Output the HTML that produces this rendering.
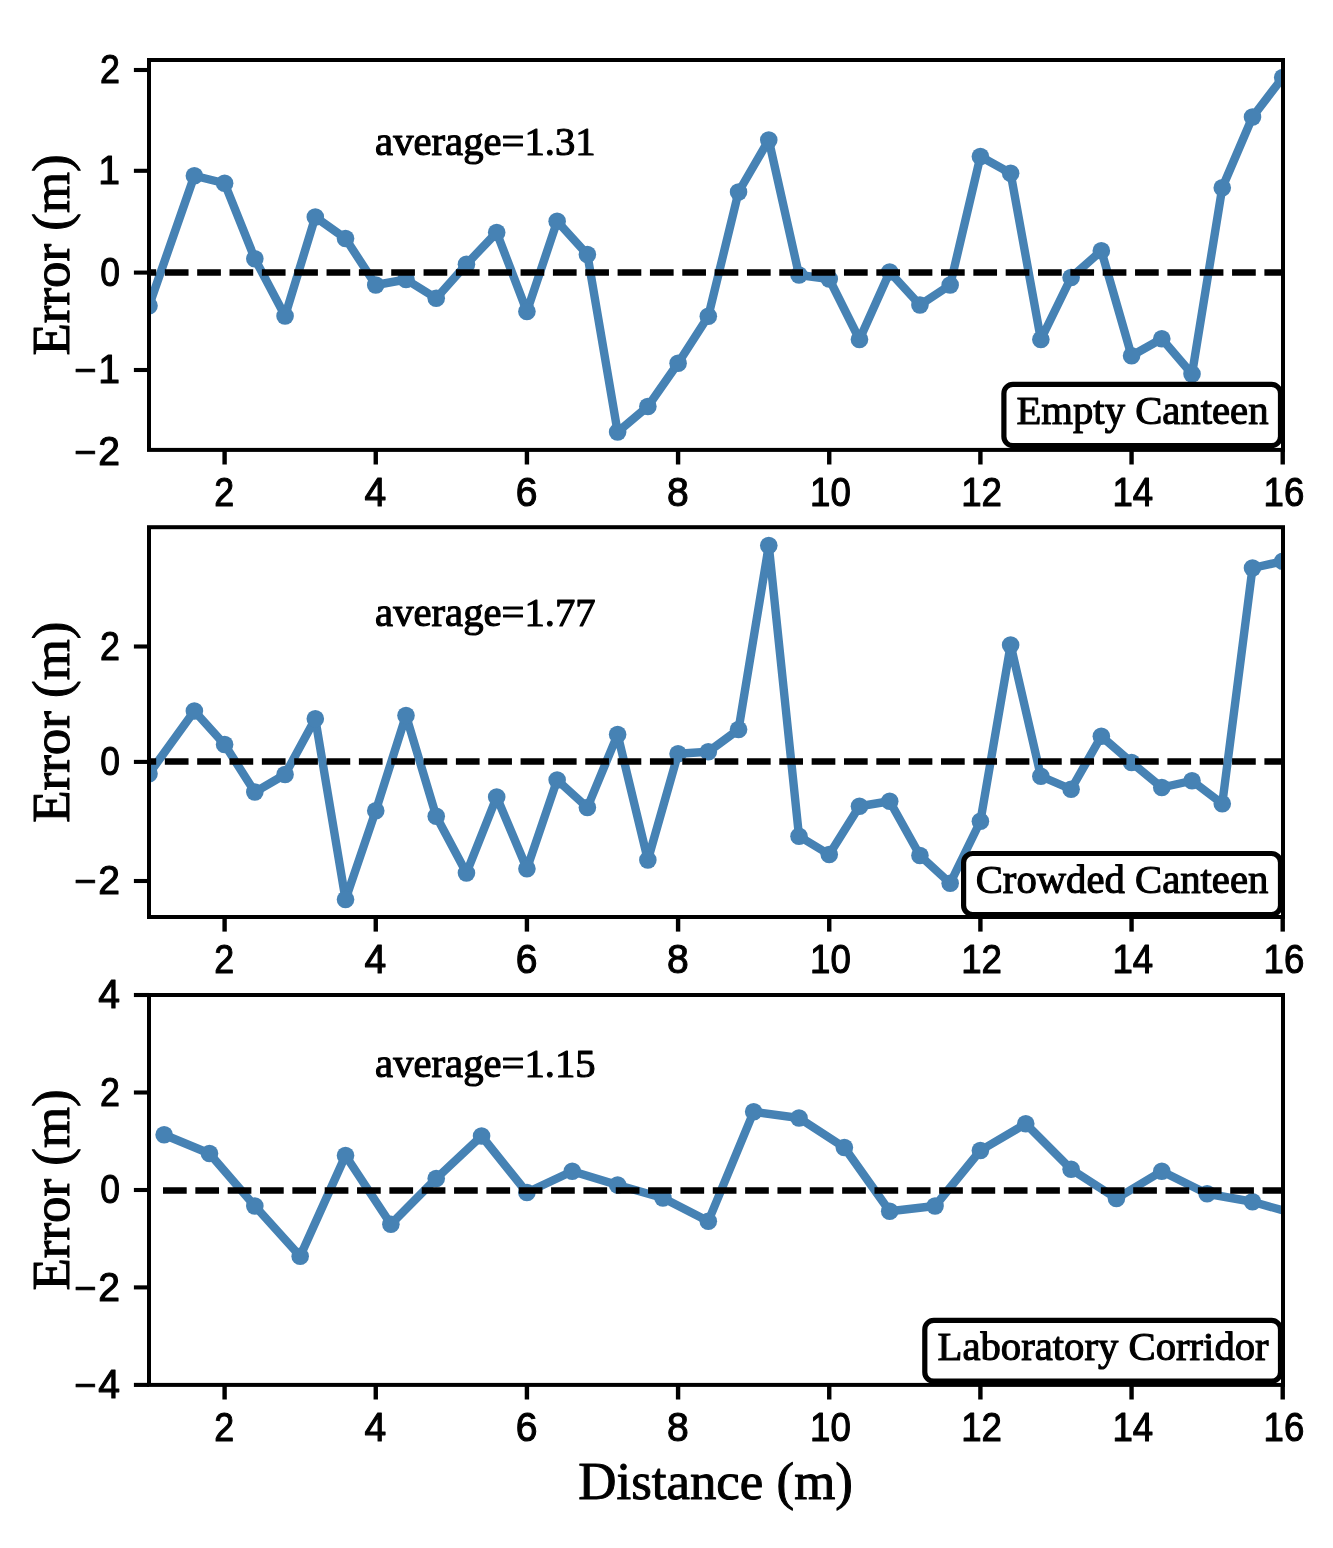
<!DOCTYPE html>
<html lang="en">
<head>
<meta charset="utf-8">
<title>Error vs Distance</title>
<style>
html,body{margin:0;padding:0;background:#fff;}
body{width:1333px;height:1548px;overflow:hidden;}
svg{display:block;}
.tk{font-family:"Liberation Sans","DejaVu Sans",sans-serif;font-size:40.7px;fill:#000;stroke:#000;stroke-width:1.1px;stroke-linejoin:round;}
.tx{font-family:"Liberation Serif","DejaVu Serif",serif;font-size:40.7px;fill:#000;stroke:#000;stroke-width:1.1px;stroke-linejoin:round;}
.lb{font-family:"Liberation Serif","DejaVu Serif",serif;font-size:52.9px;fill:#000;stroke:#000;stroke-width:1.0px;stroke-linejoin:round;}
</style>
</head>
<body>
<svg width="1333" height="1548" viewBox="0 0 1333 1548">
<rect x="0" y="0" width="1333" height="1548" fill="#ffffff"/>
<defs>
<clipPath id="c0"><rect x="149.00" y="60.00" width="1134.00" height="389.90"/></clipPath>
<clipPath id="c1"><rect x="149.00" y="527.20" width="1134.00" height="389.80"/></clipPath>
<clipPath id="c2"><rect x="149.00" y="995.00" width="1134.00" height="389.90"/></clipPath>
</defs>
<g id="panel1">
<g clip-path="url(#c0)">
<polyline points="149.02,305.75 194.37,175.75 224.60,183.25 254.83,258.75 285.06,316.00 315.30,217.00 345.53,238.50 375.76,285.00 405.99,279.50 436.22,298.25 466.46,264.25 496.69,232.50 526.92,311.50 557.15,221.25 587.38,254.50 617.62,432.00 647.85,406.50 678.08,363.25 708.31,316.25 738.54,192.00 768.78,140.00 799.01,275.00 829.24,279.00 859.47,339.50 889.70,272.00 919.94,305.00 950.17,285.00 980.40,156.50 1010.63,173.25 1040.86,339.50 1071.10,277.50 1101.33,250.75 1131.56,355.75 1161.79,338.75 1192.02,374.00 1222.26,187.75 1252.49,117.00 1282.72,77.50" fill="none" stroke="#4682b4" stroke-width="8.4" stroke-linejoin="round" stroke-linecap="butt"/>
<g fill="#4682b4"><circle cx="149.02" cy="305.75" r="8.8"/><circle cx="194.37" cy="175.75" r="8.8"/><circle cx="224.60" cy="183.25" r="8.8"/><circle cx="254.83" cy="258.75" r="8.8"/><circle cx="285.06" cy="316.00" r="8.8"/><circle cx="315.30" cy="217.00" r="8.8"/><circle cx="345.53" cy="238.50" r="8.8"/><circle cx="375.76" cy="285.00" r="8.8"/><circle cx="405.99" cy="279.50" r="8.8"/><circle cx="436.22" cy="298.25" r="8.8"/><circle cx="466.46" cy="264.25" r="8.8"/><circle cx="496.69" cy="232.50" r="8.8"/><circle cx="526.92" cy="311.50" r="8.8"/><circle cx="557.15" cy="221.25" r="8.8"/><circle cx="587.38" cy="254.50" r="8.8"/><circle cx="617.62" cy="432.00" r="8.8"/><circle cx="647.85" cy="406.50" r="8.8"/><circle cx="678.08" cy="363.25" r="8.8"/><circle cx="708.31" cy="316.25" r="8.8"/><circle cx="738.54" cy="192.00" r="8.8"/><circle cx="768.78" cy="140.00" r="8.8"/><circle cx="799.01" cy="275.00" r="8.8"/><circle cx="829.24" cy="279.00" r="8.8"/><circle cx="859.47" cy="339.50" r="8.8"/><circle cx="889.70" cy="272.00" r="8.8"/><circle cx="919.94" cy="305.00" r="8.8"/><circle cx="950.17" cy="285.00" r="8.8"/><circle cx="980.40" cy="156.50" r="8.8"/><circle cx="1010.63" cy="173.25" r="8.8"/><circle cx="1040.86" cy="339.50" r="8.8"/><circle cx="1071.10" cy="277.50" r="8.8"/><circle cx="1101.33" cy="250.75" r="8.8"/><circle cx="1131.56" cy="355.75" r="8.8"/><circle cx="1161.79" cy="338.75" r="8.8"/><circle cx="1192.02" cy="374.00" r="8.8"/><circle cx="1222.26" cy="187.75" r="8.8"/><circle cx="1252.49" cy="117.00" r="8.8"/><circle cx="1282.72" cy="77.50" r="8.8"/></g>
<line x1="132.50" y1="272.55" x2="1300" y2="272.55" stroke="#000" stroke-width="6.6" stroke-dasharray="23.7 8.64"/>
</g>
<g stroke="#000" stroke-linecap="butt">
<line x1="224.60" y1="449.90" x2="224.60" y2="464.50" stroke-width="4.4"/><line x1="375.76" y1="449.90" x2="375.76" y2="464.50" stroke-width="4.4"/><line x1="526.92" y1="449.90" x2="526.92" y2="464.50" stroke-width="4.4"/><line x1="678.08" y1="449.90" x2="678.08" y2="464.50" stroke-width="4.4"/><line x1="829.24" y1="449.90" x2="829.24" y2="464.50" stroke-width="4.4"/><line x1="980.40" y1="449.90" x2="980.40" y2="464.50" stroke-width="4.4"/><line x1="1131.56" y1="449.90" x2="1131.56" y2="464.50" stroke-width="4.4"/><line x1="1282.72" y1="449.90" x2="1282.72" y2="464.50" stroke-width="4.4"/>
<line x1="133.90" y1="70.00" x2="149.00" y2="70.00" stroke-width="4.1"/><line x1="133.90" y1="170.80" x2="149.00" y2="170.80" stroke-width="4.1"/><line x1="133.90" y1="272.60" x2="149.00" y2="272.60" stroke-width="4.1"/><line x1="133.90" y1="370.00" x2="149.00" y2="370.00" stroke-width="4.1"/>
</g>
<rect x="149.00" y="60.00" width="1134.00" height="389.90" fill="none" stroke="#000" stroke-width="4.0" stroke-linejoin="miter"/>
<g class="tk" text-anchor="middle"><text transform="translate(224.30,506.00) scale(0.88,1)">2</text><text transform="translate(375.46,506.00) scale(0.96,1)">4</text><text transform="translate(526.62,506.00) scale(0.96,1)">6</text><text transform="translate(677.78,506.00) scale(0.96,1)">8</text><text transform="translate(830.44,506.00) scale(0.9,1)">10</text><text transform="translate(981.60,506.00) scale(0.9,1)">12</text><text transform="translate(1132.76,506.00) scale(0.9,1)">14</text><text transform="translate(1283.92,506.00) scale(0.9,1)">16</text></g>
<g class="tk" text-anchor="end"><text transform="translate(120.00,83.40) scale(0.88,1)">2</text><text transform="translate(120.00,184.20) scale(0.96,1)">1</text><text transform="translate(120.00,286.00) scale(0.87,1)">0</text><text transform="translate(120.00,383.40) scale(0.96,1)"><tspan dy="0.8" style="stroke-width:0.5px">−</tspan><tspan dx="1.4" dy="-0.8">1</tspan></text><text transform="translate(120.00,465.40) scale(0.96,1)"><tspan dy="0.8" style="stroke-width:0.5px">−</tspan><tspan dx="1.4" dy="-0.8">2</tspan></text></g>
<text class="lb" text-anchor="middle" transform="translate(68.7,254.95) rotate(-90)">Error (m)</text>
<text class="tx" x="375.10" y="154.85">average=1.31</text>
<rect x="1003.90" y="384.40" width="276.60" height="61.20" rx="9" ry="9" fill="#fff" stroke="#000" stroke-width="5.2"/>
<text class="tx" x="1016.50" y="424.00">Empty Canteen</text>
</g>
<g id="panel2">
<g clip-path="url(#c1)">
<polyline points="149.02,773.75 194.37,711.00 224.60,744.50 254.83,792.00 285.06,774.50 315.30,718.75 345.53,899.50 375.76,810.75 405.99,715.50 436.22,816.25 466.46,873.00 496.69,797.00 526.92,868.75 557.15,780.00 587.38,807.50 617.62,734.50 647.85,860.00 678.08,753.75 708.31,751.75 738.54,729.50 768.78,545.50 799.01,836.25 829.24,854.50 859.47,806.25 889.70,801.25 919.94,855.50 950.17,883.25 980.40,821.25 1010.63,645.00 1040.86,776.25 1071.10,789.25 1101.33,736.25 1131.56,762.50 1161.79,787.50 1192.02,780.75 1222.26,803.75 1252.49,568.00 1282.72,561.25" fill="none" stroke="#4682b4" stroke-width="8.4" stroke-linejoin="round" stroke-linecap="butt"/>
<g fill="#4682b4"><circle cx="149.02" cy="773.75" r="8.8"/><circle cx="194.37" cy="711.00" r="8.8"/><circle cx="224.60" cy="744.50" r="8.8"/><circle cx="254.83" cy="792.00" r="8.8"/><circle cx="285.06" cy="774.50" r="8.8"/><circle cx="315.30" cy="718.75" r="8.8"/><circle cx="345.53" cy="899.50" r="8.8"/><circle cx="375.76" cy="810.75" r="8.8"/><circle cx="405.99" cy="715.50" r="8.8"/><circle cx="436.22" cy="816.25" r="8.8"/><circle cx="466.46" cy="873.00" r="8.8"/><circle cx="496.69" cy="797.00" r="8.8"/><circle cx="526.92" cy="868.75" r="8.8"/><circle cx="557.15" cy="780.00" r="8.8"/><circle cx="587.38" cy="807.50" r="8.8"/><circle cx="617.62" cy="734.50" r="8.8"/><circle cx="647.85" cy="860.00" r="8.8"/><circle cx="678.08" cy="753.75" r="8.8"/><circle cx="708.31" cy="751.75" r="8.8"/><circle cx="738.54" cy="729.50" r="8.8"/><circle cx="768.78" cy="545.50" r="8.8"/><circle cx="799.01" cy="836.25" r="8.8"/><circle cx="829.24" cy="854.50" r="8.8"/><circle cx="859.47" cy="806.25" r="8.8"/><circle cx="889.70" cy="801.25" r="8.8"/><circle cx="919.94" cy="855.50" r="8.8"/><circle cx="950.17" cy="883.25" r="8.8"/><circle cx="980.40" cy="821.25" r="8.8"/><circle cx="1010.63" cy="645.00" r="8.8"/><circle cx="1040.86" cy="776.25" r="8.8"/><circle cx="1071.10" cy="789.25" r="8.8"/><circle cx="1101.33" cy="736.25" r="8.8"/><circle cx="1131.56" cy="762.50" r="8.8"/><circle cx="1161.79" cy="787.50" r="8.8"/><circle cx="1192.02" cy="780.75" r="8.8"/><circle cx="1222.26" cy="803.75" r="8.8"/><circle cx="1252.49" cy="568.00" r="8.8"/><circle cx="1282.72" cy="561.25" r="8.8"/></g>
<line x1="132.50" y1="761.45" x2="1300" y2="761.45" stroke="#000" stroke-width="6.6" stroke-dasharray="23.7 8.64"/>
</g>
<g stroke="#000" stroke-linecap="butt">
<line x1="224.60" y1="917.00" x2="224.60" y2="931.60" stroke-width="4.4"/><line x1="375.76" y1="917.00" x2="375.76" y2="931.60" stroke-width="4.4"/><line x1="526.92" y1="917.00" x2="526.92" y2="931.60" stroke-width="4.4"/><line x1="678.08" y1="917.00" x2="678.08" y2="931.60" stroke-width="4.4"/><line x1="829.24" y1="917.00" x2="829.24" y2="931.60" stroke-width="4.4"/><line x1="980.40" y1="917.00" x2="980.40" y2="931.60" stroke-width="4.4"/><line x1="1131.56" y1="917.00" x2="1131.56" y2="931.60" stroke-width="4.4"/><line x1="1282.72" y1="917.00" x2="1282.72" y2="931.60" stroke-width="4.4"/>
<line x1="133.90" y1="646.50" x2="149.00" y2="646.50" stroke-width="4.1"/><line x1="133.90" y1="761.90" x2="149.00" y2="761.90" stroke-width="4.1"/><line x1="133.90" y1="881.00" x2="149.00" y2="881.00" stroke-width="4.1"/>
</g>
<rect x="149.00" y="527.20" width="1134.00" height="389.80" fill="none" stroke="#000" stroke-width="4.0" stroke-linejoin="miter"/>
<g class="tk" text-anchor="middle"><text transform="translate(224.30,973.10) scale(0.88,1)">2</text><text transform="translate(375.46,973.10) scale(0.96,1)">4</text><text transform="translate(526.62,973.10) scale(0.96,1)">6</text><text transform="translate(677.78,973.10) scale(0.96,1)">8</text><text transform="translate(830.44,973.10) scale(0.9,1)">10</text><text transform="translate(981.60,973.10) scale(0.9,1)">12</text><text transform="translate(1132.76,973.10) scale(0.9,1)">14</text><text transform="translate(1283.92,973.10) scale(0.9,1)">16</text></g>
<g class="tk" text-anchor="end"><text transform="translate(120.00,659.90) scale(0.88,1)">2</text><text transform="translate(120.00,775.30) scale(0.87,1)">0</text><text transform="translate(120.00,894.40) scale(0.96,1)"><tspan dy="0.8" style="stroke-width:0.5px">−</tspan><tspan dx="1.4" dy="-0.8">2</tspan></text></g>
<text class="lb" text-anchor="middle" transform="translate(68.7,722.10) rotate(-90)">Error (m)</text>
<text class="tx" x="375.10" y="625.80">average=1.77</text>
<rect x="963.60" y="853.50" width="316.90" height="61.00" rx="9" ry="9" fill="#fff" stroke="#000" stroke-width="5.2"/>
<text class="tx" x="975.70" y="893.30">Crowded Canteen</text>
</g>
<g id="panel3">
<g clip-path="url(#c2)">
<polyline points="164.14,1134.75 209.48,1153.50 254.83,1206.00 300.18,1256.25 345.53,1155.50 390.88,1224.25 436.22,1178.50 481.57,1136.00 526.92,1192.50 572.27,1171.25 617.62,1185.00 662.96,1198.00 708.31,1221.25 753.66,1111.75 799.01,1118.00 844.36,1147.50 889.70,1211.25 935.05,1206.00 980.40,1150.50 1025.75,1123.75 1071.10,1169.25 1116.44,1198.50 1161.79,1171.25 1207.14,1193.75 1252.49,1201.75 1297.84,1214.70" fill="none" stroke="#4682b4" stroke-width="8.4" stroke-linejoin="round" stroke-linecap="butt"/>
<g fill="#4682b4"><circle cx="164.14" cy="1134.75" r="8.8"/><circle cx="209.48" cy="1153.50" r="8.8"/><circle cx="254.83" cy="1206.00" r="8.8"/><circle cx="300.18" cy="1256.25" r="8.8"/><circle cx="345.53" cy="1155.50" r="8.8"/><circle cx="390.88" cy="1224.25" r="8.8"/><circle cx="436.22" cy="1178.50" r="8.8"/><circle cx="481.57" cy="1136.00" r="8.8"/><circle cx="526.92" cy="1192.50" r="8.8"/><circle cx="572.27" cy="1171.25" r="8.8"/><circle cx="617.62" cy="1185.00" r="8.8"/><circle cx="662.96" cy="1198.00" r="8.8"/><circle cx="708.31" cy="1221.25" r="8.8"/><circle cx="753.66" cy="1111.75" r="8.8"/><circle cx="799.01" cy="1118.00" r="8.8"/><circle cx="844.36" cy="1147.50" r="8.8"/><circle cx="889.70" cy="1211.25" r="8.8"/><circle cx="935.05" cy="1206.00" r="8.8"/><circle cx="980.40" cy="1150.50" r="8.8"/><circle cx="1025.75" cy="1123.75" r="8.8"/><circle cx="1071.10" cy="1169.25" r="8.8"/><circle cx="1116.44" cy="1198.50" r="8.8"/><circle cx="1161.79" cy="1171.25" r="8.8"/><circle cx="1207.14" cy="1193.75" r="8.8"/><circle cx="1252.49" cy="1201.75" r="8.8"/><circle cx="1297.84" cy="1214.70" r="8.8"/></g>
<line x1="163.00" y1="1190.50" x2="1300" y2="1190.50" stroke="#000" stroke-width="6.6" stroke-dasharray="23.7 8.64"/>
</g>
<g stroke="#000" stroke-linecap="butt">
<line x1="224.60" y1="1384.90" x2="224.60" y2="1399.50" stroke-width="4.4"/><line x1="375.76" y1="1384.90" x2="375.76" y2="1399.50" stroke-width="4.4"/><line x1="526.92" y1="1384.90" x2="526.92" y2="1399.50" stroke-width="4.4"/><line x1="678.08" y1="1384.90" x2="678.08" y2="1399.50" stroke-width="4.4"/><line x1="829.24" y1="1384.90" x2="829.24" y2="1399.50" stroke-width="4.4"/><line x1="980.40" y1="1384.90" x2="980.40" y2="1399.50" stroke-width="4.4"/><line x1="1131.56" y1="1384.90" x2="1131.56" y2="1399.50" stroke-width="4.4"/><line x1="1282.72" y1="1384.90" x2="1282.72" y2="1399.50" stroke-width="4.4"/>
<line x1="133.90" y1="995.00" x2="149.00" y2="995.00" stroke-width="4.1"/><line x1="133.90" y1="1092.50" x2="149.00" y2="1092.50" stroke-width="4.1"/><line x1="133.90" y1="1190.00" x2="149.00" y2="1190.00" stroke-width="4.1"/><line x1="133.90" y1="1287.40" x2="149.00" y2="1287.40" stroke-width="4.1"/><line x1="133.90" y1="1384.90" x2="149.00" y2="1384.90" stroke-width="4.1"/>
</g>
<rect x="149.00" y="995.00" width="1134.00" height="389.90" fill="none" stroke="#000" stroke-width="4.0" stroke-linejoin="miter"/>
<g class="tk" text-anchor="middle"><text transform="translate(224.30,1441.00) scale(0.88,1)">2</text><text transform="translate(375.46,1441.00) scale(0.96,1)">4</text><text transform="translate(526.62,1441.00) scale(0.96,1)">6</text><text transform="translate(677.78,1441.00) scale(0.96,1)">8</text><text transform="translate(830.44,1441.00) scale(0.9,1)">10</text><text transform="translate(981.60,1441.00) scale(0.9,1)">12</text><text transform="translate(1132.76,1441.00) scale(0.9,1)">14</text><text transform="translate(1283.92,1441.00) scale(0.9,1)">16</text></g>
<g class="tk" text-anchor="end"><text transform="translate(120.00,1008.40) scale(0.96,1)">4</text><text transform="translate(120.00,1105.90) scale(0.88,1)">2</text><text transform="translate(120.00,1203.40) scale(0.87,1)">0</text><text transform="translate(120.00,1300.80) scale(0.96,1)"><tspan dy="0.8" style="stroke-width:0.5px">−</tspan><tspan dx="1.4" dy="-0.8">2</tspan></text><text transform="translate(120.00,1398.30) scale(0.96,1)"><tspan dy="0.8" style="stroke-width:0.5px">−</tspan><tspan dx="1.4" dy="-0.8">4</tspan></text></g>
<text class="lb" text-anchor="middle" transform="translate(68.7,1189.95) rotate(-90)">Error (m)</text>
<text class="tx" x="375.10" y="1077.00">average=1.15</text>
<rect x="924.80" y="1320.40" width="355.70" height="60.80" rx="9" ry="9" fill="#fff" stroke="#000" stroke-width="5.2"/>
<text class="tx" x="937.60" y="1359.90">Laboratory Corridor</text>
</g>
<text class="lb" text-anchor="middle" x="715.6" y="1498.8">Distance (m)</text>
</svg>
</body>
</html>
